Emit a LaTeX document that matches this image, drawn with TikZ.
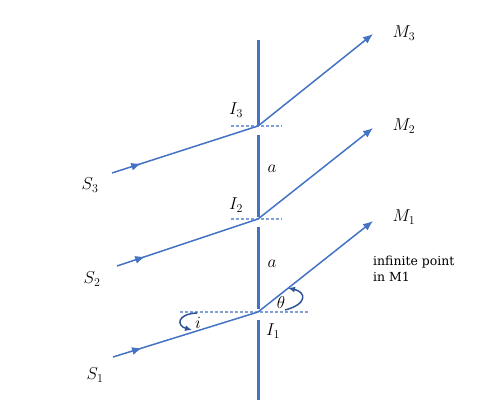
\documentclass[tikz,border=0pt]{standalone}
\usepackage{fontspec}
\newfontfamily\notefont{DejaVu Serif}
\usetikzlibrary{arrows.meta,decorations.markings}
\definecolor{rayblue}{HTML}{4472C4}
\definecolor{dashblue}{HTML}{7F9FD6}
\definecolor{arcblue}{HTML}{2F5597}
\begin{document}
\begin{tikzpicture}[x=1bp,y=-1bp,
  ray/.style={draw,color=rayblue,line width=1.5bp},
  inray/.style={ray,postaction={decorate},decoration={markings,
     mark=at position 0.2 with {\arrow{Latex[length=10bp,width=8bp]}}}},
  outray/.style={ray,-{Latex[length=10bp,width=8bp]}},
  normal/.style={draw,color=dashblue,line width=1.2bp,dash pattern=on 3bp off 2bp},
  wall/.style={draw,color=rayblue,line width=3bp},
  angarrow/.style={draw,color=arcblue,line width=1.5bp,-{Latex[length=7bp,width=6bp]}},
  lab/.style={font=\fontsize{17}{20}\selectfont,inner sep=0pt}]
\useasboundingbox (0,0) rectangle (502,403);

% incidence points
\coordinate (I3) at (258,126);
\coordinate (I2) at (258,219);
\coordinate (I1) at (258,312);
% sources and infinite points
\coordinate (S3) at (112,173);
\coordinate (S2) at (117,266);
\coordinate (S1) at (113,357);
\coordinate (M3) at (373,34);
\coordinate (M2) at (373,128);
\coordinate (M1) at (373,221);

% the grating
\path[wall] (258,40) -- (258,125);
\path[wall] (258,135) -- (258,217);
\path[wall] (258,227) -- (258,309);
\path[wall] (258,320) -- (258,400);

% normals
\path[normal] (231,126) -- (282,126);
\path[normal] (231,219) -- (282,219);
\path[normal] (180,312) -- (308,312);

% rays
\path[inray] (S3) -- (I3);
\path[inray] (S2) -- (I2);
\path[inray] (S1) -- (I1);
\path[outray] (I3) -- (M3);
\path[outray] (I2) -- (M2);
\path[outray] (I1) -- (M1);

% angles
\path[angarrow] (285,310) .. controls (308,304) and (306,292) .. (288,288);
\path[angarrow] (197,313) .. controls (176,314) and (177,326) .. (192,330);

% labels
\node[lab] (lS3) at (90,185) {$S_3$};
\node[lab] (lS2) at (92,279) {$S_2$};
\node[lab] (lS1) at (95,375) {$S_1$};
\node[lab] (lI3) at (236,110) {$I_3$};
\node[lab] (lI2) at (236,205) {$I_2$};
\node[lab] (lI1) at (273,331) {$I_1$};
\node[lab] (la1) at (272,169) {$a$};
\node[lab] (la2) at (272,264) {$a$};
\node[lab] (lth) at (281,303) {$\theta$};
\node[lab] (li) at (198,323) {$i$};
\node[lab] (lM3) at (404,33) {$M_3$};
\node[lab] (lM2) at (404,126) {$M_2$};
\node[lab] (lM1) at (404,217) {$M_1$};
\node[anchor=north west,align=left,inner sep=0pt,font=\notefont\fontsize{12.5}{16}\selectfont]
  (note) at (373,256) {infinite point\\in M1};
\end{tikzpicture}
\end{document}
